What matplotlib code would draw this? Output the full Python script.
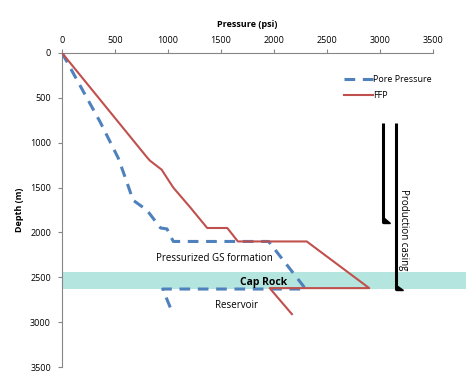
import matplotlib.pyplot as plt
from matplotlib.patches import Rectangle, Polygon

# pore pressure profile (psi, m)
pore_psi = [0, 360, 530, 600, 670, 800, 930, 990, 1050, 1950, 2300, 950, 1030]
pore_depth = [0, 770, 1170, 1400, 1640, 1750, 1950, 1960, 2100, 2100, 2630, 2630, 2860]

# formation fracture pressure
ffp_psi = [0, 800, 830, 940, 1050, 1210, 1370, 1560, 1660, 2310, 2900, 1960, 2170]
ffp_depth = [0, 1160, 1200, 1300, 1500, 1720, 1950, 1950, 2100, 2100, 2620, 2620, 2910]

cap_top, cap_bottom = 2440, 2630
x_ticks = [0, 500, 1000, 1500, 2000, 2500, 3000, 3500]
y_ticks = [0, 500, 1000, 1500, 2000, 2500, 3000, 3500]

# casing strings: x position, top and shoe depth
casing_x = [3030, 3150]
casing_top = [780, 780]
casing_shoe = [1890, 2640]

plt.rcParams['font.family'] = ['Open Sans', 'DejaVu Sans']

fig = plt.figure(figsize=(4.74, 3.84), dpi=100)
ax = fig.add_axes([0.131, 0.044, 0.782, 0.818])

ax.add_patch(Rectangle((0, cap_top), 3810, cap_bottom - cap_top,
                       facecolor='#b4e6df', edgecolor='none', clip_on=False, zorder=1))

ax.plot(pore_psi, pore_depth, color='#4f81bd', lw=2.2, ls=(0, (3.5, 2.5)),
        label='Pore Pressure', zorder=3)
ax.plot(ffp_psi, ffp_depth, color='#c0504d', lw=1.5, label='FFP', zorder=3)

for cx, ct, cs in zip(casing_x, casing_top, casing_shoe):
    ax.plot([cx, cx], [ct, cs], color='black', lw=2.2, solid_capstyle='butt', zorder=4)
    ax.add_patch(Polygon([[cx, cs - 60], [cx, cs], [cx + 65, cs]],
                         closed=True, facecolor='black', edgecolor='black', zorder=4))

ax.text(3225, 1970, 'Production casing', rotation=270, fontsize=7,
        ha='center', va='center')
ax.text(1440, 2285, 'Pressurized GS formation', fontsize=7, ha='center', va='center')
ax.text(1900, 2555, 'Cap Rock', fontsize=7.5, fontweight='bold', ha='center', va='center')
ax.text(1650, 2810, 'Reservoir', fontsize=7, ha='center', va='center')

ax.set_xlim(0, 3500)
ax.set_ylim(3500, 0)
ax.set_xticks(x_ticks)
ax.set_yticks(y_ticks)
ax.xaxis.tick_top()
ax.xaxis.set_label_position('top')
ax.set_xlabel('Pressure (psi)', fontsize=6.5, fontweight='bold', labelpad=6)
ax.set_ylabel('Depth (m)', fontsize=6.5, fontweight='bold', labelpad=4)
ax.tick_params(labelsize=6.5, length=3, color='#868686')
ax.tick_params(axis='x', pad=3)
ax.tick_params(axis='y', pad=5)

for side in ['right', 'bottom']:
    ax.spines[side].set_visible(False)
for side in ['top', 'left']:
    ax.spines[side].set_color('#868686')

ax.legend(loc='upper right', bbox_to_anchor=(1.02, 0.955), frameon=False, fontsize=6.5,
          handlelength=3.2, handletextpad=0.1, labelspacing=0.8)

fig.savefig('out.png')
